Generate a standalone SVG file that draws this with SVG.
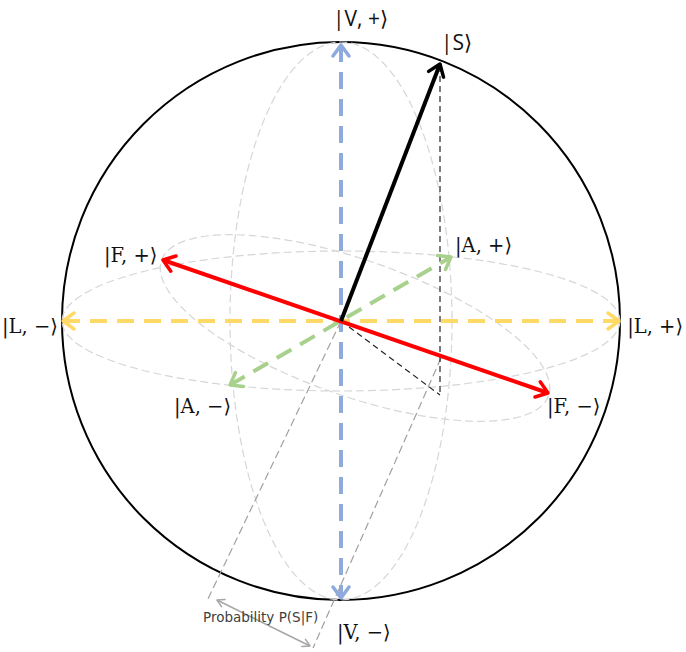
<svg xmlns="http://www.w3.org/2000/svg" width="686" height="652" viewBox="0 0 686 652">
<style>
.guide{fill:none;stroke:#d6d6d6;stroke-width:1.2;stroke-dasharray:8 4}
.proj{fill:none;stroke:#a0a0a0;stroke-width:1.2;stroke-dasharray:8 4}
.projk{fill:none;stroke:#262626;stroke-width:1.2;stroke-dasharray:6 4}
.axis{fill:none;stroke-width:4;stroke-dasharray:17 10}
.vec{fill:none;stroke-width:4}
.serif{font-family:"DejaVu Serif","Liberation Serif",serif;font-size:19.5px;fill:#111}
.sans{font-family:"Open Sans","DejaVu Sans",sans-serif;font-size:21px;fill:#111}
.note{font-family:"DejaVu Sans","Liberation Sans",sans-serif;font-size:13.5px;fill:#404040}
</style>
<defs>
<marker id="hb" markerUnits="userSpaceOnUse" markerWidth="24" markerHeight="24" viewBox="-14 -12 18 24" refX="0" refY="0" orient="auto-start-reverse" overflow="visible"><path d="M-11,-8 L0,0 L-11,8" fill="none" stroke="#8FAADC" stroke-width="3.5" stroke-linejoin="round" stroke-linecap="round" stroke-dasharray="none"/></marker>
<marker id="hy" markerUnits="userSpaceOnUse" markerWidth="24" markerHeight="24" viewBox="-14 -12 18 24" refX="0" refY="0" orient="auto-start-reverse" overflow="visible"><path d="M-11,-8 L0,0 L-11,8" fill="none" stroke="#FFD966" stroke-width="3.5" stroke-linejoin="round" stroke-linecap="round" stroke-dasharray="none"/></marker>
<marker id="hg" markerUnits="userSpaceOnUse" markerWidth="24" markerHeight="24" viewBox="-14 -12 18 24" refX="0" refY="0" orient="auto-start-reverse" overflow="visible"><path d="M-11,-8 L0,0 L-11,8" fill="none" stroke="#A9D18E" stroke-width="3.5" stroke-linejoin="round" stroke-linecap="round" stroke-dasharray="none"/></marker>
<marker id="hr" markerUnits="userSpaceOnUse" markerWidth="24" markerHeight="24" viewBox="-14 -12 18 24" refX="0" refY="0" orient="auto-start-reverse" overflow="visible"><path d="M-11,-8 L0,0 L-11,8" fill="none" stroke="#FF0000" stroke-width="3.5" stroke-linejoin="round" stroke-linecap="round" stroke-dasharray="none"/></marker>
<marker id="hk" markerUnits="userSpaceOnUse" markerWidth="24" markerHeight="24" viewBox="-14 -12 18 24" refX="0" refY="0" orient="auto" overflow="visible"><path d="M-11,-8 L0,0 L-11,8" fill="none" stroke="#000000" stroke-width="3.5" stroke-linejoin="round" stroke-linecap="round" stroke-dasharray="none"/></marker>
<marker id="hgr" markerUnits="userSpaceOnUse" markerWidth="12" markerHeight="12" viewBox="-8 -6 10 12" refX="0" refY="0" orient="auto-start-reverse" overflow="visible"><path d="M-7,-4 L0,0 L-7,4" fill="none" stroke="#a6a6a6" stroke-width="1.5" stroke-linejoin="round" stroke-linecap="round"/></marker>
</defs>
<rect width="686" height="652" fill="#ffffff"/>
<g id="sphere">
<circle cx="341" cy="321" r="279" fill="none" stroke="#000" stroke-width="2"/>
<ellipse class="guide" cx="341" cy="321" rx="279" ry="70"/>
<ellipse class="guide" cx="341" cy="321" rx="111" ry="279"/>
<ellipse class="guide" cx="355" cy="328" rx="205" ry="68" transform="rotate(19.3 355 328)"/>
</g>
<g id="connectors">
<line class="proj" x1="341" y1="321" x2="207" y2="601"/>
<line class="proj" x1="441" y1="358" x2="313" y2="648"/>
<line class="projk" x1="440" y1="66" x2="440" y2="395"/>
<line class="projk" x1="341" y1="321" x2="440" y2="395"/>
<line x1="217" y1="600" x2="310" y2="646" stroke="#a6a6a6" stroke-width="1.5" marker-start="url(#hgr)" marker-end="url(#hgr)"/>
<line class="axis" stroke="#FFD966" x1="63" y1="321" x2="619" y2="321" marker-start="url(#hy)" marker-end="url(#hy)"/>
<line class="axis" stroke="#A9D18E" x1="230" y1="385" x2="451" y2="257" marker-start="url(#hg)" marker-end="url(#hg)"/>
<line class="axis" stroke="#8FAADC" x1="341" y1="45" x2="341" y2="598" marker-start="url(#hb)" marker-end="url(#hb)"/>
<line class="vec" stroke="#FF0000" x1="163" y1="260" x2="548" y2="393" marker-start="url(#hr)" marker-end="url(#hr)"/>
<line class="vec" stroke="#000000" x1="341" y1="321" x2="440" y2="64" marker-end="url(#hk)"/>
</g>
<g id="node-V-plus"><text class="sans" x="333" y="26">|V, +⟩</text></g>
<g id="node-S"><text class="sans" x="441" y="50">|S⟩</text></g>
<g id="node-F-plus"><text class="serif" x="104" y="262">|F, +⟩</text></g>
<g id="node-A-plus"><text class="serif" x="455" y="252">|A, +⟩</text></g>
<g id="node-L-minus"><text class="serif" x="2" y="333">|L, −⟩</text></g>
<g id="node-L-plus"><text class="serif" x="683" y="333" text-anchor="end">|L, +⟩</text></g>
<g id="node-A-minus"><text class="serif" x="174" y="413">|A, −⟩</text></g>
<g id="node-F-minus"><text class="serif" x="547" y="413">|F, −⟩</text></g>
<g id="node-V-minus"><text class="serif" x="337" y="639">|V, −⟩</text></g>
<g id="note-probability"><text class="note" x="203" y="622">Probability P(S|F)</text></g>
</svg>
